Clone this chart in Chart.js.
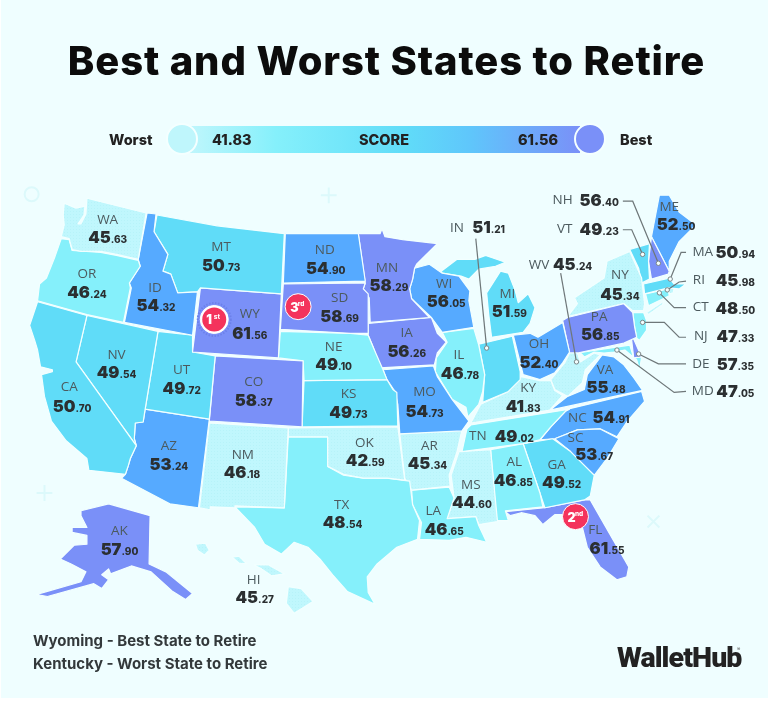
<!DOCTYPE html>
<html>
<head>
<meta charset="utf-8">
<title>Best and Worst States to Retire</title>
<script src="https://cdn.jsdelivr.net/npm/chart.js@4"></script>
<style>
  html, body { margin: 0; padding: 0; background: #fff; overflow: hidden; }
  #panel { position: absolute; left: 1px; top: 0; width: 767px; height: 698px; background: #effeff; }
  #mapChart { position: absolute; left: 0; top: 0; }
  .txt { position: absolute; font-family: Inter, sans-serif; color: #222; white-space: nowrap; }
  #title { left: 0; width: 773px; top: 36px; text-align: center; font-size: 40px; line-height: 50px; font-weight: 800; color: #0c0c0c; letter-spacing: 0.87px; }
  #bar { position: absolute; left: 190px; top: 126px; width: 390px; height: 27px;
         background: linear-gradient(90deg, #bff6fc 0%, #85f0fb 22%, #72e6fa 40%, #60dcf8 55%, #5fc6fb 72%, #7a90f8 100%); }
  .dot { position: absolute; top: 123px; width: 28px; height: 28px; border-radius: 50%; border: 2px solid #f4ffff; }
  .lg { top: 131px; font-size: 14.5px; font-weight: 800; line-height: 17px; }
  .foot { left: 33px; font-size: 15px; font-weight: 700; color: #33393b; line-height: 18px; }
  #logo { left: 617px; top: 641px; font-family: Roboto, sans-serif; font-size: 28.5px; font-weight: 900; color: #222; letter-spacing: -0.9px; line-height: 34px; }
  #reg { left: 737px; top: 646px; font-size: 5px; line-height: 6px; color: #555; }
</style>
</head>
<body>
<div id="panel"></div>
<div id="bar"></div>
<div class="dot" style="left:166px;background:#bff6fc"></div>
<div class="dot" style="left:574px;background:#7a90f8"></div>
<canvas id="mapChart" width="768" height="706"></canvas>
<div class="txt" id="title">Best and Worst States to Retire</div>
<div class="txt lg" style="left:109px">Worst</div>
<div class="txt lg" style="left:212px">41.83</div>
<div class="txt lg" style="left:359px">SCORE</div>
<div class="txt lg" style="left:518px">61.56</div>
<div class="txt lg" style="left:620px">Best</div>
<div class="txt foot" style="top:632px">Wyoming - Best State to Retire</div>
<div class="txt foot" style="top:655px">Kentucky - Worst State to Retire</div>
<div class="txt" id="logo">WalletHub</div>
<div class="txt" id="reg">®</div>

<script>
// state codes and scores, same order
var stateCodes = ['WA','OR','CA','NV','ID','MT','WY','UT','AZ','CO','NM','ND','SD','NE','KS','OK','TX',
  'MN','IA','MO','AR','LA','WI','IL','MI','IN','OH','KY','TN','MS','AL','GA','FL','SC','NC','VA','WV','PA',
  'NY','VT','NH','ME','MA','RI','CT','NJ','DE','MD','AK','HI'];
var stateScores = [45.63,46.24,50.70,49.54,54.32,50.73,61.56,49.72,53.24,58.37,46.18,54.90,58.69,49.10,49.73,42.59,48.54,
  58.29,56.26,54.73,45.34,46.65,56.05,46.78,51.59,51.21,52.40,41.83,49.02,44.60,46.85,49.52,61.55,53.67,54.91,55.48,45.24,56.85,
  45.34,49.23,56.40,52.50,50.94,45.98,48.50,47.33,57.35,47.05,57.90,45.27];

// score bins -> colour
var binLimits = [46.2, 49.2, 52, 56.2, 100];
var binColors = ['#c0f7fd', '#85f0fb', '#60dcf8', '#56aaff', '#7a90f8'];

// outlines in map units (x,y pairs), one list per land part
var stateOutlines = {
  WA: [[60,201,72,206,81,204,80,213,74,222,77,222,82,212,83,196,143,211,135,258,113,253,97,250,77,250,68,248,65,237,57,235,60,223,59,213]],
  OR: [[57,237,65,238,68,249,97,251,113,254,135,259,137,265,126,282,127,287,120,322,83,314,33,300,35,283,42,277,50,257]],
  CA: [[33,301,83,315,72,362,133,447,127,460,125,467,122,476,85,472,83,460,62,442,47,422,40,397,37,375,48,372,48,370,36,367,33,350,30,340,25,325]],
  NV: [[83,315,155,331,142,410,140,423,132,424,131,440,133,447,72,362]],
  ID: [[144,211,153,212,151,230,165,253,160,270,168,273,175,292,195,291,190,335,121,322,128,287,126,282,137,265,135,258]],
  MT: [[154,213,215,224,283,232,280,293,198,287,195,291,175,292,168,273,160,270,165,253,151,230]],
  WY: [[198,287,280,293,277,358,190,352]],
  UT: [[155,331,190,335,190,352,213,356,207,420,142,410]],
  AZ: [[142,410,207,420,196,510,167,506,118,480,122,476,125,467,127,460,133,447,131,440,132,424,140,423]],
  CO: [[213,356,302,361,301,428,207,422]],
  NM: [[207,424,287,429,283,510,233,508,233,510,208,509,208,512,197,510]],
  ND: [[284,232,358,232,365,280,282,282]],
  SD: [[282,283,365,282,363,288,368,293,368,333,350,333,279,329]],
  NE: [[279,331,350,333,368,335,373,347,383,370,387,380,303,381,302,361,277,358]],
  KS: [[303,381,387,380,393,390,397,393,398,427,301,428]],
  OK: [[287,429,398,428,400,443,405,482,387,480,363,480,343,476,327,468,327,438,287,438]],
  TX: [[287,438,327,438,327,468,343,477,363,480,387,480,410,483,413,507,420,523,418,542,397,550,377,567,367,580,368,596,375,608,347,595,332,578,320,563,307,550,293,545,280,557,263,547,253,530,233,509,283,510]],
  MN: [[358,232,380,232,382,227,385,235,403,238,438,242,417,263,415,267,413,278,410,288,412,298,430,317,370,322,369,297,363,288,365,282]],
  IA: [[368,323,432,317,438,333,447,342,438,353,435,365,380,368,373,347,368,335]],
  MO: [[383,370,434,366,438,377,453,400,470,422,463,432,400,435,398,405,395,392,387,380]],
  AR: [[400,435,463,431,458,453,450,477,451,488,412,492,405,480]],
  LA: [[412,492,450,489,455,500,448,521,477,519,480,528,488,545,467,540,450,543,420,542,422,525,413,507]],
  WI: [[415,267,430,263,443,272,460,275,471,290,470,300,475,327,443,332,432,317,412,298,410,288,413,278]],
  IL: [[443,332,475,328,480,345,486,375,484,392,480,405,469,418,467,408,453,400,436,372,437,358,448,342]],
  MI: [[488,292,502,270,510,272,517,290,520,302,530,293,537,307,532,323,525,332,493,337,490,313],
       [442,270,458,258,476,258,487,254,507,261,497,265,480,268,470,278,462,275,443,272]],
  IN: [[480,344,514,336,522,372,522,380,510,392,484,403,486,375]],
  OH: [[515,335,532,333,540,337,565,322,572,352,565,363,557,373,542,380,525,375]],
  KY: [[472,424,482,405,510,392,523,377,542,381,553,381,557,391,565,396,552,411]],
  TN: [[468,430,472,426,572,410,568,412,553,428,542,441,525,445,463,453]],
  MS: [[460,453,492,451,499,524,480,527,477,519,448,521,455,500,452,477]],
  AL: [[492,451,525,445,542,495,545,509,507,513,510,523,498,523]],
  GA: [[525,445,555,440,573,453,597,477,593,498,587,502,547,510,542,495]],
  FL: [[507,514,547,510,587,502,593,502,613,537,632,570,630,580,620,583,603,570,590,550,585,530,567,517,557,517,545,527,537,518,523,515,512,518]],
  SC: [[557,440,580,431,603,430,622,440,610,460,597,477,583,465,573,453]],
  NC: [[570,410,645,392,648,402,630,423,620,438,603,430,580,431,557,440,542,441,553,428]],
  VA: [[552,411,570,397,587,390,590,375,605,355,617,357,627,365,637,378,646,391]],
  WV: [[572,353,580,353,583,362,597,353,603,355,588,370,585,383,570,397,557,390,553,380,567,363]],
  PA: [[565,320,570,317,627,303,636,312,638,327,640,337,627,343,580,353,572,353]],
  NY: [[577,297,607,277,610,260,633,250,645,277,648,303,647,310,636,310,627,303,570,316,580,303],
       [650,312,668,300,666,304,652,314]],
  VT: [[633,248,653,242,652,260,653,278,645,282,642,267]],
  NH: [[655,235,673,270,672,273,655,278,652,260]],
  ME: [[655,235,663,193,673,193,683,210,700,223,683,240,673,260,673,270]],
  MA: [[647,283,673,277,678,283,690,283,683,288,672,287,648,293]],
  RI: [[672,287,678,287,677,292,673,293]],
  CT: [[649,293,672,288,673,295,652,305]],
  NJ: [[636,312,647,312,650,320,650,330,643,340,640,338,638,327]],
  DE: [[634,332,645,357,637,358]],
  MD: [[580,353,633,345,637,358,645,357,643,370,640,360,628,350,617,352,607,353,597,352,587,357,583,353]],
  AK: [[77,513,105,506,147,518,146,567,163,575,190,597,183,603,170,595,148,575,128,569,107,577,105,572,98,578,105,583,98,592,90,587,43,600,32,598,42,595,77,585,82,575,67,567,56,562,70,548,83,547,83,538,68,535,68,530,83,530,77,518]],
  HI: [[287,590,300,592,312,605,293,617,285,607],
       [252,568,267,568,283,577,270,579,260,572],
       [230,560,237,559,245,567,237,566],
       [193,547,203,546,207,553,202,558,195,553]]
};

// label anchors: code x,y then score x,y
var labelAt = {
  WA:[104,218,104,235], OR:[83,273,83,291], ID:[152,287,153,304], MT:[219,246,219,264], WY:[248,314,248,333],
  CA:[65,388,68,407], NV:[113,355,113,372], UT:[179,370,179,388], AZ:[166,448,166,466], NM:[241,457,240,474],
  CO:[252,383,252,401], KS:[348,395,348,413], NE:[333,347,333,364], SD:[339,297,339,315], ND:[324,249,325,267],
  MN:[387,267,389,284], WI:[445,283,447,300], IA:[407,333,407,351], MO:[425,393,425,412], IL:[460,355,461,373],
  MI:[509,293,511,310], OH:[541,344,541,362], PA:[602,317,603,334], NY:[623,274,623,293], ME:[673,205,680,222],
  VA:[608,370,609,387], KY:[530,389,525,407], TN:[479,437,516,437], NC:[580,419,614,418], SC:[578,439,597,455],
  GA:[559,467,564,484], AL:[516,464,515,482], MS:[472,487,473,504], AR:[430,447,428,465], LA:[434,513,445,532],
  OK:[364,444,365,462], TX:[341,507,342,524], FL:[598,533,610,551], AK:[116,534,116,552], HI:[252,583,253,601],
  IN:[458,226,490,225], WV:[541,264,575,263], NH:[565,198,602,198], VT:[567,227,602,227], MA:[707,251,740,251],
  RI:[703,279,740,279], CT:[705,307,740,307], NJ:[705,336,740,336], DE:[705,364,740,364], MD:[707,392,740,392]
};

// callout lines, last point gets the dot
var leaderLines = [
  [477,237,488,348], [563,272,579,362],
  [626,199,636,199,662,262], [626,228,635,228,646,253],
  [690,251,685,251,674,278], [690,280,683,281,671,289],
  [690,307,678,307,663,292], [690,337,683,337,668,322,646,322],
  [690,364,662,364,642,354], [690,392,678,393,620,350]
];

// rank badges: x, y, radius, rank text, suffix
var badges = [[212,319,14,'1','st'], [297,306,13,'3','rd'], [578,519,13,'2','nd']];

function toPoints(flat, close) {
  var pts = [];
  for (var i = 0; i < flat.length; i += 2) pts.push({ x: flat[i], y: flat[i + 1] });
  if (close) pts.push({ x: flat[0], y: flat[1] });
  return pts;
}

function colorFor(score) {
  for (var i = 0; i < binLimits.length; i++) {
    if (score < binLimits[i]) return i === 0 ? dottedFill() : binColors[i];
  }
}

// lightest bin has a fine dot texture in the original
var dotPattern = null;
function dottedFill() {
  if (dotPattern) return dotPattern;
  var c = document.createElement('canvas');
  c.width = 3; c.height = 3;
  var g = c.getContext('2d');
  g.fillStyle = binColors[0];
  g.fillRect(0, 0, 3, 3);
  g.fillStyle = '#b6f3f9';
  g.fillRect(1, 1, 1, 1);
  dotPattern = g.createPattern(c, 'repeat');
  return dotPattern;
}

var datasets = [];
leaderLines.forEach(function(line) {
  var pts = toPoints(line, false);
  datasets.push({
    data: pts, showLine: true, fill: false, borderColor: '#6e7779', borderWidth: 1.2,
    pointRadius: pts.map(function(p, i) { return i === pts.length - 1 ? 2.2 : 0; }),
    pointBackgroundColor: '#f4ffff', pointBorderColor: '#7d8688', pointBorderWidth: 1
  });
});
stateCodes.forEach(function(code, i) {
  stateOutlines[code].forEach(function(part) {
    datasets.push({
      label: code, data: toPoints(part, true), showLine: true, fill: 'shape',
      backgroundColor: colorFor(stateScores[i]),
      borderColor: '#f2ffff', borderWidth: 1.2, borderJoinStyle: 'round', pointRadius: 0
    });
  });
});

function drawScore(ctx, score, cx, cy) {
  var parts = score.toFixed(2).split('.');
  var whole = parts[0], frac = '.' + parts[1];
  var bigFont = '900 16.5px Inter, sans-serif', smallFont = '800 10px Inter, sans-serif';
  ctx.textBaseline = 'alphabetic';
  ctx.textAlign = 'left';
  ctx.font = bigFont;
  var w1 = ctx.measureText(whole).width;
  ctx.font = smallFont;
  var w2 = ctx.measureText(frac).width;
  var left = cx - (w1 + w2) / 2;
  ctx.fillStyle = '#2b2f31';
  ctx.font = bigFont;
  ctx.fillText(whole, left, cy + 6);
  ctx.font = smallFont;
  ctx.fillText(frac, left + w1, cy + 6);
}

// faint shapes behind the map
var backdropPlugin = {
  id: 'backdrop',
  beforeDatasetsDraw: function(chart) {
    var ctx = chart.ctx, sx = chart.scales.x, sy = chart.scales.y;
    function px(v) { return sx.getPixelForValue(v); }
    function py(v) { return sy.getPixelForValue(v); }
    ctx.save();
    ctx.strokeStyle = '#dcf9fb';
    ctx.lineWidth = 2;
    ctx.beginPath(); ctx.arc(px(27), py(192), 7, 0, Math.PI * 2); ctx.stroke();
    [[328,193],[40,495]].forEach(function(p) {
      ctx.beginPath();
      ctx.moveTo(px(p[0] - 8), py(p[1])); ctx.lineTo(px(p[0] + 8), py(p[1]));
      ctx.moveTo(px(p[0]), py(p[1] - 8)); ctx.lineTo(px(p[0]), py(p[1] + 8));
      ctx.stroke();
    });
    ctx.beginPath();
    ctx.moveTo(px(651), py(518)); ctx.lineTo(px(663), py(530));
    ctx.moveTo(px(663), py(518)); ctx.lineTo(px(651), py(530));
    ctx.stroke();
    ctx.restore();
  }
};

// state codes, scores and rank badges on top of the map
var labelPlugin = {
  id: 'stateLabels',
  afterDatasetsDraw: function(chart) {
    var ctx = chart.ctx, sx = chart.scales.x, sy = chart.scales.y;
    ctx.save();
    stateCodes.forEach(function(code, i) {
      var at = labelAt[code];
      ctx.fillStyle = '#4c5a5e';
      ctx.font = '400 13.5px "Open Sans", sans-serif';
      ctx.textAlign = 'center';
      ctx.textBaseline = 'middle';
      ctx.fillText(code, sx.getPixelForValue(at[0]), sy.getPixelForValue(at[1]));
      drawScore(ctx, stateScores[i], sx.getPixelForValue(at[2]), sy.getPixelForValue(at[3]));
    });
    badges.forEach(function(b, n) {
      var x = sx.getPixelForValue(b[0]), y = sy.getPixelForValue(b[1]);
      if (n === 0) {
        // winner gets a dotted halo and an inner ring
        ctx.save();
        ctx.setLineDash([1.5, 1.5]);
        ctx.strokeStyle = '#6c80ea';
        ctx.lineWidth = 2;
        ctx.beginPath();
        ctx.arc(x, y, b[2] + 2.5, 0, Math.PI * 2);
        ctx.stroke();
        ctx.restore();
      }
      ctx.beginPath();
      ctx.arc(x, y, b[2], 0, Math.PI * 2);
      ctx.fillStyle = n === 0 ? '#fff' : '#f4335c';
      ctx.fill();
      ctx.strokeStyle = '#fff';
      ctx.lineWidth = 1;
      ctx.stroke();
      if (n === 0) {
        ctx.beginPath();
        ctx.arc(x, y, b[2] - 2, 0, Math.PI * 2);
        ctx.fillStyle = '#f4335c';
        ctx.fill();
      }
      ctx.fillStyle = '#fff';
      ctx.textBaseline = 'alphabetic';
      ctx.textAlign = 'left';
      ctx.font = '900 12.5px Inter, sans-serif';
      ctx.fillText(b[3], x - 8, y + 5);
      ctx.font = '800 6.5px Inter, sans-serif';
      ctx.fillText(b[4], x - 0.5, y - 0.5);
    });
    ctx.restore();
  }
};

new Chart(document.getElementById('mapChart'), {
  type: 'scatter',
  data: { datasets: datasets },
  options: {
    responsive: false,
    animation: false,
    layout: { padding: 0 },
    plugins: { legend: { display: false }, tooltip: { enabled: false } },
    scales: {
      x: { type: 'linear', min: 0, max: 768, display: false },
      y: { type: 'linear', min: 0, max: 706, reverse: true, display: false }
    }
  },
  plugins: [backdropPlugin, labelPlugin]
});
</script>
</body>
</html>
